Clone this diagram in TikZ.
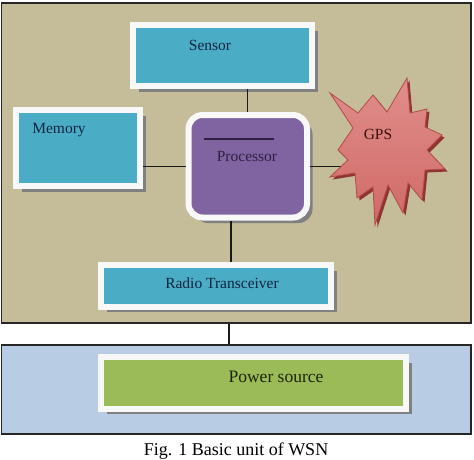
\documentclass[tikz,border=0pt]{standalone}
\usepackage{fontspec}
\setmainfont{Liberation Serif}
\usetikzlibrary{shadows,calc}
\definecolor{tanbg}{HTML}{C5BD99}
\definecolor{lightblue}{HTML}{B8CCE4}
\definecolor{cblue}{HTML}{4BACC6}
\definecolor{cgreen}{HTML}{9BBB59}
\definecolor{cpurple}{HTML}{8064A2}
\definecolor{framewhite}{HTML}{F8F8F8}
\definecolor{bluetext}{HTML}{10253F}
\definecolor{purpletext}{HTML}{2E2040}
\definecolor{greentext}{HTML}{1C240C}
\definecolor{redtext}{HTML}{3B1010}
\definecolor{starshadow}{HTML}{8E3533}
\definecolor{starborder}{HTML}{B44A47}
\definecolor{startop}{HTML}{E08E8B}
\definecolor{starmid}{HTML}{C8504D}
\definecolor{starbot}{HTML}{D06966}
\begin{document}
\begin{tikzpicture}[x=1pt,y=-1pt,
  outerbox/.style={draw=black!85, line width=1.8pt, inner sep=0pt},
  box/.style={draw=framewhite, line width=6pt, inner sep=0pt,
    drop shadow={shadow xshift=5.5pt, shadow yshift=-5.5pt, fill=black!50, opacity=1}},
  conn/.style={line width=1.3pt, draw=black!90},
  txt/.style={inner sep=0pt, font=\fontsize{15.5}{18}\selectfont},
]
\useasboundingbox (0,0) rectangle (474,460);

% outer areas
\node[outerbox, fill=tanbg, minimum width=469.5pt, minimum height=320pt] (tanbox) at (236.25,163) {};
\node[outerbox, fill=lightblue, minimum width=469.5pt, minimum height=89pt] (bluebox) at (236.25,389.5) {};

% boxes
\node[box, fill=cblue, minimum width=179pt, minimum height=60.5pt] (sensor) at (222.5,55.75) {};
\node[box, fill=cblue, minimum width=124pt, minimum height=76pt] (mem) at (78,148) {};
\node[box, fill=cpurple, rounded corners=14pt, minimum width=118.5pt, minimum height=102.5pt] (proc) at (247.75,166.25) {};
\node[box, fill=cblue, minimum width=230pt, minimum height=41.5pt] (radio) at (216,285.75) {};
\node[box, fill=cgreen, minimum width=305pt, minimum height=51.5pt] (power) at (253.5,382.75) {};

% texts
\node[txt, text=bluetext] (sensorT) at (210,45) {Sensor};
\node[txt, text=bluetext] (memT) at (59,130) {Memory};
\node[txt, text=purpletext] (procT) at (247,157) {Processor};
\node[txt, text=bluetext] (radioT) at (222,283) {Radio Transceiver};
\node[txt, text=greentext, font=\fontsize{17.5}{20}\selectfont] (powerT) at (276,377) {Power source};
\draw[line width=1.3pt, draw=purpletext] (204,139) -- (274,139);

% connectors
\coordinate (gpsin) at (348,0);
\coordinate (rx) at (231,0);
\coordinate (px) at (229,0);
\draw[conn] (proc.north) -- (proc.north |- sensor.south);
\draw[conn] (proc.west) -- (proc.west -| mem.east);
\draw[conn] (proc.east) -- (proc.east -| gpsin);
\draw[conn] (proc.south -| rx) -- (radio.north -| rx);
\draw[conn] (tanbox.south -| px) -- (bluebox.north -| px);

% GPS star
\begin{scope}[shift={(2.5,2.5)}]
\fill[starshadow] (330,93) -- (358,113) -- (373,95) -- (387,112) -- (407,78) -- (410,113)
  -- (427,109) -- (425,127) -- (442,135) -- (427,150) -- (445,169) -- (425,170)
  -- (422,200) -- (408,183) -- (403,213) -- (388,185) -- (375,225) -- (373,187)
  -- (357,198) -- (355,173) -- (330,177) -- (348,160) -- (338,150) -- (353,128) -- cycle;
\end{scope}
\shade[top color=startop, middle color=starmid, bottom color=starbot, draw=starborder, line width=0.8pt]
  (330,93) -- (358,113) -- (373,95) -- (387,112) -- (407,78) -- (410,113)
  -- (427,109) -- (425,127) -- (442,135) -- (427,150) -- (445,169) -- (425,170)
  -- (422,200) -- (408,183) -- (403,213) -- (388,185) -- (375,225) -- (373,187)
  -- (357,198) -- (355,173) -- (330,177) -- (348,160) -- (338,150) -- (353,128) -- cycle;
\node[txt, text=redtext] (gpsT) at (378,134) {GPS};

% caption
\node[inner sep=0pt, anchor=base, font=\fontsize{18}{20}\selectfont] (caption) at (236,455) {Fig. 1 Basic unit of WSN};
\end{tikzpicture}
\end{document}
